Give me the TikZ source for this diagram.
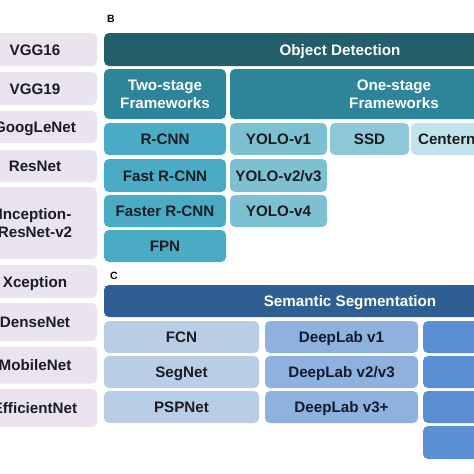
\documentclass[tikz,border=0pt]{standalone}
\usepackage{fontspec}
\setmainfont{Liberation Sans}
\definecolor{lav}{HTML}{E9E4EE}
\definecolor{odh}{HTML}{245E6B}
\definecolor{stage}{HTML}{2E8499}
\definecolor{twoc}{HTML}{4AABC4}
\definecolor{yolo}{HTML}{7CC0D2}
\definecolor{ssdc}{HTML}{8EC8D8}
\definecolor{cent}{HTML}{C1E3EC}
\definecolor{ssh}{HTML}{2F5E92}
\definecolor{fcnc}{HTML}{B9CDE4}
\definecolor{dlc}{HTML}{8EB1DD}
\definecolor{rbc}{HTML}{5A8FD3}
\definecolor{txt}{HTML}{1C1C24}
\definecolor{navy}{HTML}{111A33}
\tikzset{
  bx/.style={rounded corners=5pt, inner sep=0pt, align=center, text=txt,
    text height=11pt, text depth=0pt,
    font=\fontsize{15.2}{17.5}\selectfont\bfseries},
  twoline/.style={text height=28.5pt, text depth=0pt},
  lavbox/.style={bx, fill=lav, minimum width=124pt},
  hdr/.style={bx, text=white},
  lbl/.style={inner sep=0pt, font=\fontsize{10.5}{12}\selectfont\bfseries, text=black}
}
\begin{document}
\begin{tikzpicture}[x=1pt,y=-1pt]
\useasboundingbox (0,0) rectangle (474,474);
\clip (0,0) rectangle (474,474);
\fill[white] (0,0) rectangle (474,474);
% left column
\node[lavbox, minimum height=33pt] (vgg16) at (35,49.5) {VGG16};
\node[lavbox, minimum height=33pt] (vgg19) at (35,88.5) {VGG19};
\node[lavbox, minimum height=32pt] (goog) at (35,127) {GoogLeNet};
\node[lavbox, minimum height=32pt] (resnet) at (35,166) {ResNet};
\node[lavbox, twoline, minimum height=72pt] (incep) at (35,223) {Inception-\\ResNet-v2};
\node[lavbox, minimum height=33pt] (xcep) at (35,281.5) {Xception};
\node[lavbox, minimum height=38pt] (dense) at (35,322) {DenseNet};
\node[lavbox, minimum height=37pt] (mobile) at (35,365) {MobileNet};
\node[lavbox, minimum height=38pt] (eff) at (35,408) {EfficientNet};
% B
\node[lbl] (lb) at (111,18.5) {B};
\node[hdr, fill=odh, minimum width=476pt, minimum height=33pt] (od) at (342,49.5) {\hspace*{-4pt}Object Detection};
\node[hdr, twoline, fill=stage, minimum width=122pt, minimum height=50pt] (two) at (165,94) {Two-stage\\Frameworks};
\node[hdr, twoline, fill=stage, minimum width=328pt, minimum height=50pt] (one) at (394,94) {One-stage\\Frameworks};
\node[bx, fill=twoc, minimum width=122pt, minimum height=32pt] (rcnn) at (165,139) {R-CNN};
\node[bx, fill=twoc, minimum width=122pt, minimum height=33pt] (fast) at (165,175.5) {Fast R-CNN};
\node[bx, fill=twoc, minimum width=122pt, minimum height=32pt] (faster) at (165,211) {Faster R-CNN};
\node[bx, fill=twoc, minimum width=122pt, minimum height=32pt] (fpn) at (165,246) {FPN};
\node[bx, fill=yolo, minimum width=97pt, minimum height=32pt] (y1) at (278.5,139) {YOLO-v1};
\node[bx, fill=yolo, minimum width=97pt, minimum height=33pt] (y23) at (278.5,175.5) {YOLO-v2/v3};
\node[bx, fill=yolo, minimum width=97pt, minimum height=32pt] (y4) at (278.5,211) {YOLO-v4};
\node[bx, fill=ssdc, minimum width=79pt, minimum height=32pt] (ssd) at (369.5,139) {SSD};
\node[bx, fill=cent, minimum width=85pt, minimum height=32pt] (cn) at (453.5,139) {Centernet};
% C
\node[lbl] (lc) at (114,276) {C};
\node[hdr, fill=ssh, minimum width=492pt, minimum height=32pt] (ss) at (350,301) {Semantic Segmentation};
\node[bx, fill=fcnc, minimum width=155pt, minimum height=32pt] (fcn) at (181.5,337) {FCN};
\node[bx, fill=fcnc, minimum width=155pt, minimum height=32pt] (seg) at (181.5,372) {SegNet};
\node[bx, fill=fcnc, minimum width=155pt, minimum height=32pt] (psp) at (181.5,407) {PSPNet};
\node[bx, fill=dlc, text=navy, minimum width=153pt, minimum height=32pt] (dl1) at (341.5,337) {DeepLab v1};
\node[bx, fill=dlc, text=navy, minimum width=153pt, minimum height=32pt] (dl2) at (341.5,372) {DeepLab v2/v3};
\node[bx, fill=dlc, text=navy, minimum width=153pt, minimum height=32pt] (dl3) at (341.5,407) {DeepLab v3+};
\node[bx, fill=rbc, minimum width=97pt, minimum height=32pt] (r1) at (471.5,337) {};
\node[bx, fill=rbc, minimum width=97pt, minimum height=32pt] (r2) at (471.5,372) {};
\node[bx, fill=rbc, minimum width=97pt, minimum height=32pt] (r3) at (471.5,407) {};
\node[bx, fill=rbc, minimum width=97pt, minimum height=33pt] (r4) at (471.5,442.5) {};
\end{tikzpicture}
\end{document}
